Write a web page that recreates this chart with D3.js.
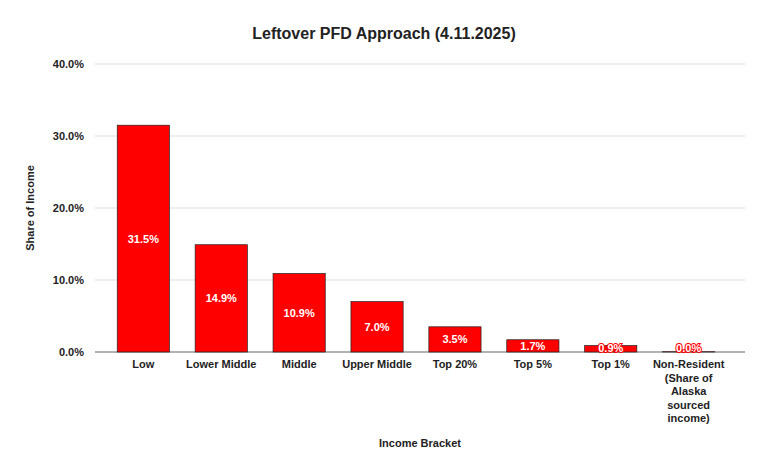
<!DOCTYPE html>
<html><head><meta charset="utf-8">
<script src="https://cdn.jsdelivr.net/npm/d3@7"></script>
<style>body{margin:0;background:#fff;font-family:Arial,"Liberation Sans",sans-serif}</style>
</head><body><svg id="chart" width="768" height="475"></svg>
<script>
const categories = ['Low', 'Lower Middle', 'Middle', 'Upper Middle', 'Top 20%', 'Top 5%', 'Top 1%', 'Non-Resident (Share of Alaska sourced income)'];
const values = [31.5, 14.9, 10.9, 7.0, 3.5, 1.7, 0.9, 0.04];
const labels = ['31.5%', '14.9%', '10.9%', '7.0%', '3.5%', '1.7%', '0.9%', '0.0%'];
const yTicks = [0, 10, 20, 30, 40];

const svg = d3.select('#chart');
const margin = {left: 95, right: 23, top: 64, bottom: 123};
const width = 768, height = 475;

const x = d3.scaleBand().domain(categories).range([104, 728]).paddingInner(0.33).paddingOuter(0.17);
const y = d3.scaleLinear().domain([0, 40]).range([height - margin.bottom, margin.top]);

svg.append('text').attr('x', 384).attr('y', 39).attr('text-anchor', 'middle')
    .attr('font-size', 16).attr('font-weight', 'bold').attr('fill', '#222').text('Leftover PFD Approach (4.11.2025)');

svg.append('g').selectAll('line').data(yTicks).join('line')
    .attr('x1', margin.left).attr('x2', width - margin.right)
    .attr('y1', d => y(d)).attr('y2', d => y(d))
    .attr('stroke', d => d === 0 ? '#999' : '#ddd').attr('stroke-width', d => d === 0 ? 1.5 : 1);

svg.append('g').selectAll('text').data(yTicks).join('text')
    .attr('x', 84).attr('y', d => y(d) + 4).attr('text-anchor', 'end')
    .attr('font-size', 11).attr('font-weight', 'bold').attr('fill', '#222').text(d => d.toFixed(1) + '%');

svg.append('g').selectAll('rect').data(values).join('rect')
    .attr('x', (d, i) => x(categories[i])).attr('width', x.bandwidth())
    .attr('y', d => y(d)).attr('height', d => y(0) - y(d))
    .attr('fill', '#ff0000').attr('stroke', '#222').attr('stroke-width', 0.7);

svg.append('g').selectAll('text').data(values).join('text')
    .attr('x', (d, i) => x(categories[i]) + x.bandwidth() / 2)
    .attr('y', d => Math.min((y(d) + y(0)) / 2, y(0) - 4) + 4)
    .attr('text-anchor', 'middle').attr('font-size', 11).attr('font-weight', 'bold')
    .attr('fill', '#fff').attr('stroke', '#ff0000').attr('stroke-width', 2).attr('paint-order', 'stroke')
    .text((d, i) => labels[i]);

const xl = svg.append('g').selectAll('text').data(categories).join('text')
    .attr('x', d => x(d) + x.bandwidth() / 2).attr('y', y(0) + 16)
    .attr('text-anchor', 'middle').attr('font-size', 11).attr('font-weight', 'bold').attr('fill', '#222');
const lines = {'Non-Resident (Share of Alaska sourced income)': ['Non-Resident', '(Share of', 'Alaska', 'sourced', 'income)']};
xl.each(function(d) {
    const parts = lines[d] || [d];
    d3.select(this).selectAll('tspan').data(parts).join('tspan')
        .attr('x', x(d) + x.bandwidth() / 2).attr('dy', (p, i) => i === 0 ? 0 : 13.5).text(p => p);
});

svg.append('text').attr('x', 420).attr('y', 447).attr('text-anchor', 'middle')
    .attr('font-size', 11).attr('font-weight', 'bold').attr('fill', '#222').text('Income Bracket');
svg.append('text').attr('transform', 'translate(34,' + (y(20)) + ') rotate(-90)').attr('text-anchor', 'middle')
    .attr('font-size', 11).attr('font-weight', 'bold').attr('fill', '#222').text('Share of Income');
</script></body></html>
